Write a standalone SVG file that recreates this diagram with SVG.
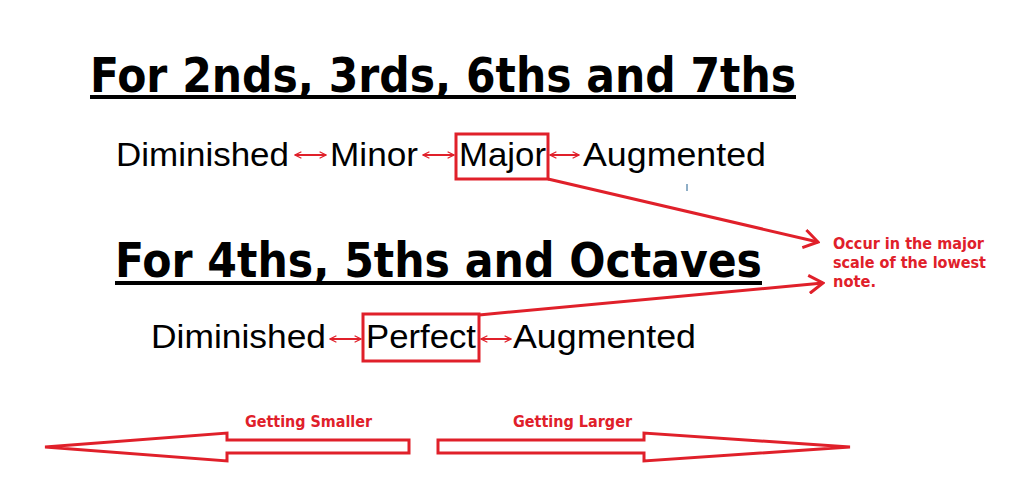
<svg xmlns="http://www.w3.org/2000/svg" width="1011" height="503" viewBox="0 0 1011 503">
<defs>
<style>
.title{font-family:"DejaVu Sans Condensed","DejaVu Sans",Verdana,sans-serif;font-weight:bold;font-size:48px;fill:#000}
.ul{fill:#000}
.word{font-family:"Liberation Sans",Arial,sans-serif;font-size:33px;fill:#000}
.box{fill:none;stroke:#e0202a;stroke-width:3}
.red{fill:none;stroke:#e0202a;stroke-width:2}
.big{fill:#fff;stroke:#e0202a;stroke-width:3;stroke-linejoin:miter}
.note{font-family:"DejaVu Sans Condensed","DejaVu Sans",Verdana,sans-serif;font-weight:bold;font-size:16px;fill:#e0202a}
.lbl{font-family:"DejaVu Sans Condensed","DejaVu Sans",Verdana,sans-serif;font-weight:bold;font-size:16px;fill:#e0202a}
</style>
<marker id="ah" viewBox="0 0 10 10" refX="9" refY="5" markerWidth="8" markerHeight="8" markerUnits="userSpaceOnUse" orient="auto-start-reverse">
<path d="M1,1 L9,5 L1,9" fill="none" stroke="#e0202a" stroke-width="1.5"/>
</marker>
<marker id="bh" viewBox="0 0 20 20" refX="18" refY="10" markerWidth="20" markerHeight="20" markerUnits="userSpaceOnUse" orient="auto">
<path d="M4,1 L18,10 L4,19" fill="none" stroke="#e0202a" stroke-width="3"/>
</marker>
</defs>
<rect width="1011" height="503" fill="#fff"/>

<g id="title1">
<text class="title" x="90" y="92" textLength="706" lengthAdjust="spacingAndGlyphs">For 2nds, 3rds, 6ths and 7ths</text>
<rect class="ul" x="90" y="95" width="706" height="4"/>
</g>
<g id="title2">
<text class="title" x="115" y="277" textLength="647" lengthAdjust="spacingAndGlyphs">For 4ths, 5ths and Octaves</text>
<rect class="ul" x="115" y="281" width="647" height="4"/>
</g>

<g id="n-diminished1"><text class="word" x="116" y="166" textLength="173" lengthAdjust="spacingAndGlyphs">Diminished</text></g>
<g id="n-minor"><text class="word" x="330" y="166" textLength="88" lengthAdjust="spacingAndGlyphs">Minor</text></g>
<g id="n-major">
<rect class="box" x="456" y="134" width="92" height="45"/>
<text class="word" x="459" y="166" textLength="87" lengthAdjust="spacingAndGlyphs">Major</text>
</g>
<g id="n-augmented1"><text class="word" x="583" y="166" textLength="183" lengthAdjust="spacingAndGlyphs">Augmented</text></g>

<g id="n-diminished2"><text class="word" x="151" y="348" textLength="175" lengthAdjust="spacingAndGlyphs">Diminished</text></g>
<g id="n-perfect">
<rect class="box" x="363" y="314" width="116" height="47"/>
<text class="word" x="366" y="348" textLength="110" lengthAdjust="spacingAndGlyphs">Perfect</text>
</g>
<g id="n-augmented2"><text class="word" x="513" y="348" textLength="183" lengthAdjust="spacingAndGlyphs">Augmented</text></g>

<g id="n-note">
<text class="note" x="833" y="249" textLength="151" lengthAdjust="spacingAndGlyphs">Occur in the major</text>
<text class="note" x="833" y="268" textLength="153" lengthAdjust="spacingAndGlyphs">scale of the lowest</text>
<text class="note" x="833" y="287" textLength="43" lengthAdjust="spacingAndGlyphs">note.</text>
</g>

<g id="labels">
<text class="lbl" x="245" y="427" textLength="127" lengthAdjust="spacingAndGlyphs">Getting Smaller</text>
<text class="lbl" x="513" y="427" textLength="119" lengthAdjust="spacingAndGlyphs">Getting Larger</text>
</g>

<g id="connectors">
<line class="red" x1="295" y1="155" x2="326" y2="155" marker-start="url(#ah)" marker-end="url(#ah)"/>
<line class="red" x1="423" y1="155" x2="454" y2="155" marker-start="url(#ah)" marker-end="url(#ah)"/>
<line class="red" x1="550" y1="155" x2="579" y2="155" marker-start="url(#ah)" marker-end="url(#ah)"/>
<line class="red" x1="330" y1="339" x2="361" y2="339" marker-start="url(#ah)" marker-end="url(#ah)"/>
<line class="red" x1="481" y1="339" x2="511" y2="339" marker-start="url(#ah)" marker-end="url(#ah)"/>
<line class="red" style="stroke-width:3" x1="548" y1="179" x2="818" y2="242" marker-end="url(#bh)"/>
<line class="red" style="stroke-width:3" x1="479" y1="315" x2="823" y2="283" marker-end="url(#bh)"/>
<polygon class="big" points="45,447 227,433 227,440 409,440 409,453 227,453 227,461"/>
<polygon class="big" points="850,447 644,433 644,440 438,440 438,453 644,453 644,461"/>
</g>

<line x1="687" y1="184" x2="687" y2="191" stroke="#1f5f8f" stroke-width="1"/>
</svg>
